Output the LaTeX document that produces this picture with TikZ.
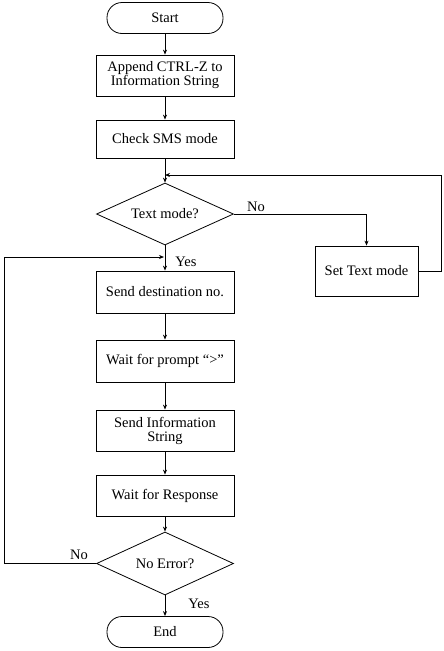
\documentclass[tikz,border=0pt]{standalone}
\usepackage{fontspec}
\setmainfont{Liberation Serif}
\usetikzlibrary{shapes.geometric,arrows.meta}
\begin{document}
\begin{tikzpicture}[x=1pt,y=-1pt,
  every node/.style={font=\fontsize{14.5}{14}\selectfont},
  proc/.style={draw,line width=0.8pt,minimum width=138pt,minimum height=41pt,align=center,inner sep=1pt},
  term/.style={draw,line width=0.8pt,rounded corners=15pt,minimum width=116pt,minimum height=31pt},
  dec/.style={draw,line width=0.8pt,diamond,shape aspect=2.2,minimum width=137pt,minimum height=62pt,inner sep=0pt},
  conn/.style={line width=0.8pt,-{Stealth[length=5pt,width=4pt]}},
  lbl/.style={inner sep=1pt}]
\useasboundingbox (0,0) rectangle (444,651);
\node[term] (start) at (165,18) {Start};
\node[proc] (append) at (165,75.5) {Append CTRL-Z to\\Information String};
\node[proc,minimum height=38pt] (check) at (165,139) {Check SMS mode};
\node[dec] (text) at (165,214) {Text mode?};
\node[proc,minimum width=103pt,minimum height=50pt] (set) at (366.5,271) {Set Text mode};
\node[proc,minimum height=42pt] (dest) at (165,292) {Send destination no.};
\node[proc,minimum height=42pt] (wait) at (165,361) {Wait for prompt ``>''};
\node[proc,minimum height=41pt] (sendinfo) at (165,430.5) {Send Information\\String};
\node[proc,minimum height=41pt] (resp) at (165,495.5) {Wait for Response};
\node[dec,minimum height=63pt] (err) at (165,563.5) {No Error?};
\node[term] (end) at (165,632) {End};
\coordinate (loopTop) at (441,175);
\coordinate (loopLeft) at (4,257);
\draw[conn] (start) -- (append);
\draw[conn] (append) -- (check);
\draw[conn] (check) -- (text);
\draw[conn] (text.east) -| (set.north);
\draw[line width=0.8pt] (set.east) -| (loopTop);
\draw[conn] (loopTop) -- (165,175);
\draw[conn] (text) -- (dest);
\draw[conn] (dest) -- (wait);
\draw[conn] (wait) -- (sendinfo);
\draw[conn] (sendinfo) -- (resp);
\draw[conn] (resp) -- (err);
\draw[conn] (err) -- (end);
\draw[line width=0.8pt] (err.west) -| (loopLeft);
\draw[conn] (loopLeft) -- (164,257);
\node[lbl] (no1) at (256,207) {No};
\node[lbl] (yes1) at (186,262) {Yes};
\node[lbl] (no2) at (79,555) {No};
\node[lbl] (yes2) at (199,604) {Yes};
\end{tikzpicture}
\end{document}
